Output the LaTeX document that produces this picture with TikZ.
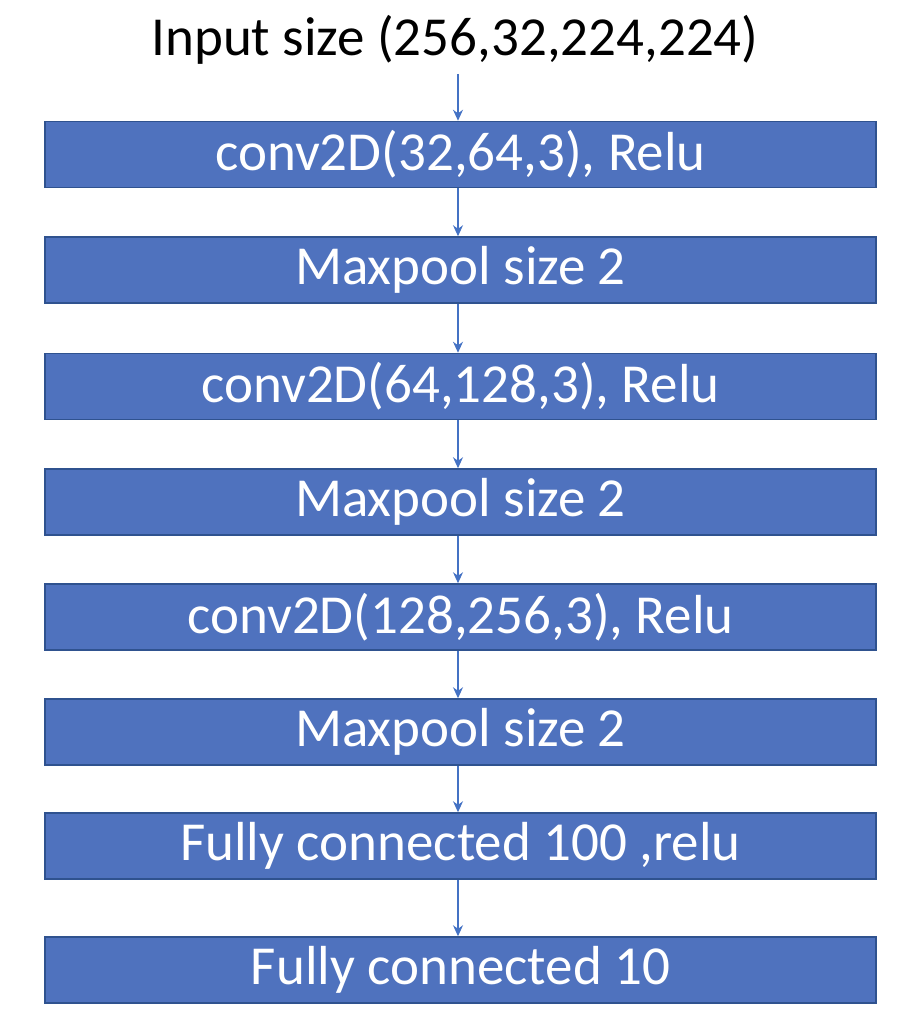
\documentclass[tikz,border=0pt]{standalone}
\usepackage{fontspec}
\setmainfont{Carlito}
\usetikzlibrary{arrows.meta}
\definecolor{boxfill}{HTML}{4F72BE}
\definecolor{boxline}{HTML}{2F528F}
\definecolor{arr}{HTML}{4472C4}
\begin{document}
\begin{tikzpicture}[x=1pt,y=-1pt,
  layer/.style={draw=boxline,line width=1.5pt,fill=boxfill,text=white,minimum width=831pt,minimum height=66pt,inner sep=0pt,font=\fontsize{55}{60}\selectfont},
  link/.style={draw=arr,line width=1.3pt,-{Stealth[length=11pt,width=10pt]}}]
\useasboundingbox (0,0) rectangle (909,1024);
\node[font=\fontsize{55}{60}\selectfont,inner sep=0pt] (in) at (455,40) {Input size (256,32,224,224)};
\node[layer] (b1) at (460.5,154.5) {conv2D(32,64,3), Relu};
\node[layer] (b2) at (460.5,270) {Maxpool size 2};
\node[layer] (b3) at (460.5,386.5) {conv2D(64,128,3), Relu};
\node[layer] (b4) at (460.5,502) {Maxpool size 2};
\node[layer] (b5) at (460.5,617) {conv2D(128,256,3), Relu};
\node[layer] (b6) at (460.5,732) {Maxpool size 2};
\node[layer] (b7) at (460.5,846) {Fully connected 100 ,relu};
\node[layer] (b8) at (460.5,970) {Fully connected 10};
\coordinate (s0) at (458,74);
\draw[link] (s0) -- (s0 |- b1.north);
\foreach \a/\b in {b1/b2,b2/b3,b3/b4,b4/b5,b5/b6,b6/b7,b7/b8}{
  \draw[link] ([xshift=-2.5pt]\a.south) -- ([xshift=-2.5pt]\b.north);}
\end{tikzpicture}
\end{document}
